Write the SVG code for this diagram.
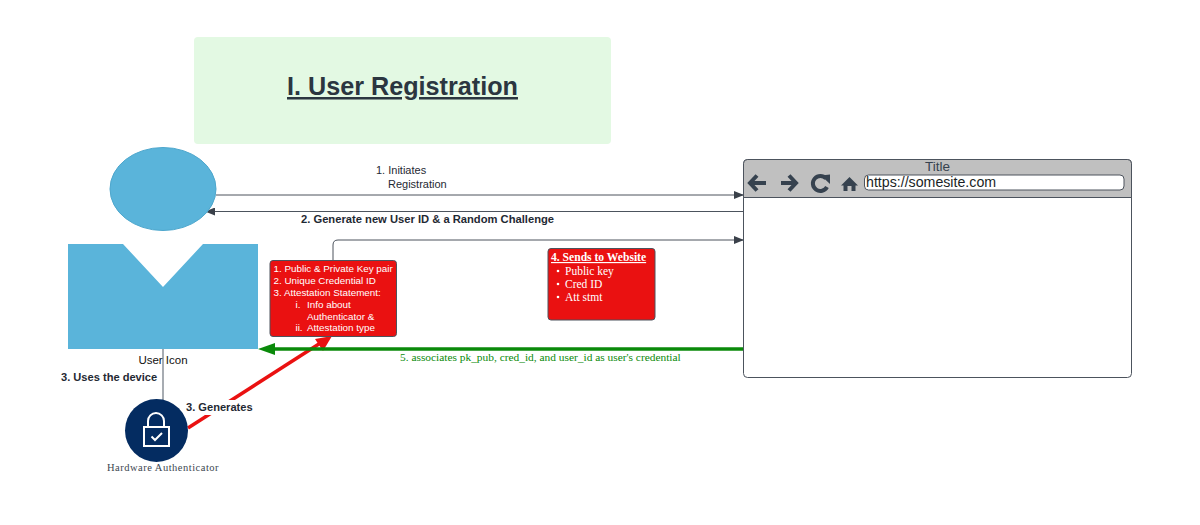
<svg xmlns="http://www.w3.org/2000/svg" width="1200" height="525" viewBox="0 0 1200 525">
<style>
.s{font-family:"Liberation Sans",Arial,sans-serif;fill:#1f2933}
.b{font-weight:700}
.w{font-family:"Liberation Sans",Arial,sans-serif;fill:#fff;font-size:9.850px}
.g{font-family:"Liberation Serif","DejaVu Serif",serif}
.ln{fill:none;stroke:#4c535d;stroke-width:1}
</style>
<defs>
<marker id="ah" markerWidth="10" markerHeight="8" refX="9" refY="4" orient="auto" markerUnits="userSpaceOnUse"><path d="M0 0L10 4L0 8Z" fill="#3a414a"/></marker>
</defs>
<rect width="1200" height="525" fill="#fff"/>
<g id="title"><rect x="194" y="37" width="417" height="107" rx="4" fill="#e3f9e3"/>
<text x="402.500" y="95" text-anchor="middle" class="s b" font-size="25.200" text-decoration="underline" style="fill:#2b3640">I. User Registration</text></g>
<g id="connectors">
<path class="ln" d="M216 195H743" marker-end="url(#ah)"/>
<path class="ln" d="M743 211.500H206" marker-end="url(#ah)"/>
<path class="ln" d="M333 260V245Q333 240 338 240H743" marker-end="url(#ah)"/>
<path d="M163 349V401" fill="none" stroke="#8a9099" stroke-width="1.500"/>
<path d="M188 428L322 342" fill="none" stroke="#ea1111" stroke-width="3.500"/>
<path d="M332 336L315 339L323 351Z" fill="#ea1111"/>
<path d="M743 349H272" fill="none" stroke="#0a8a0a" stroke-width="3.500"/>
<path d="M258 349L275 343V355Z" fill="#0a8a0a"/>
</g>
<g id="user-icon">
<ellipse cx="163" cy="189" rx="53" ry="41.500" fill="#5ab4da" stroke="#4ea7cd"/>
<path d="M68 244H123L163 287L203 244H258V349H68Z" fill="#5ab4da"/>
<text x="163" y="364" text-anchor="middle" class="s" font-size="11.500" style="fill:#111">User Icon</text>
</g>
<g id="label-uses"><text x="61" y="381" class="s b" font-size="11.100">3. Uses the device</text></g>
<g id="authenticator">
<circle cx="156.500" cy="430.500" r="31.500" fill="#042c61"/>
<path d="M148 427V421a8 8 0 0 1 16 0V427" fill="none" stroke="#fff" stroke-width="2"/>
<rect x="144" y="427" width="25" height="19" fill="none" stroke="#fff" stroke-width="2"/>
<path d="M151.500 436.500L155 440L162 433" fill="none" stroke="#fff" stroke-width="2"/>
<text x="163" y="471" text-anchor="middle" class="g" fill="#3c4650" font-size="10.500" letter-spacing=".5">Hardware Authenticator</text>
</g>
<g id="label-generates"><rect x="186" y="400" width="68" height="15" fill="#fff"/><text x="186" y="411" class="s b" font-size="11.100">3. Generates</text></g>
<g id="label-initiates"><text x="376" y="174" class="s" font-size="11">1. Initiates</text><text x="388" y="188" class="s" font-size="11">Registration</text></g>
<g id="label-generate-new"><text x="301" y="223" class="s b" font-size="11.200">2. Generate new User ID &amp; a Random Challenge</text></g>
<g id="box-keys">
<rect x="270" y="260.500" width="126.500" height="76" rx="3" fill="#ea1111" stroke="#4c535d"/>
<text class="w" x="273.500" y="272">1. Public &amp; Private Key pair</text>
<text class="w" x="273.500" y="284">2. Unique Credential ID</text>
<text class="w" x="273.500" y="296">3. Attestation Statement:</text>
<text class="w" x="295.500" y="307.500">i.</text><text class="w" x="307" y="307.500">Info about</text>
<text class="w" x="307" y="319.500">Authenticator &amp;</text>
<text class="w" x="295.500" y="331">ii.</text><text class="w" x="307" y="331">Attestation type</text>
</g>
<g id="box-sends">
<rect x="548" y="248.500" width="107" height="71.500" rx="3" fill="#ea1111" stroke="#4c535d"/>
<text x="551" y="261" class="g" fill="#fff" font-size="11.600" font-weight="700" text-decoration="underline">4. Sends to Website</text>
<g class="g" fill="#fff" font-size="11.500">
<circle cx="558" cy="271" r="1.300"/><text x="565" y="274.500">Public key</text>
<circle cx="558" cy="284" r="1.300"/><text x="565" y="288">Cred ID</text>
<circle cx="558" cy="297" r="1.300"/><text x="565" y="301">Att stmt</text>
</g>
</g>
<g id="label-associates"><text x="400" y="361" class="g" fill="#0a8a0a" font-size="11.400">5. associates pk_pub, cred_id, and user_id as user's credential</text></g>
<g id="browser">
<rect x="743.500" y="159.500" width="388" height="218" rx="4" fill="#fff" stroke="#4c535d"/>
<path d="M743.500 197.500V163.500a4 4 0 0 1 4-4H1127.500a4 4 0 0 1 4 4V197.500Z" fill="#c0c0c0" stroke="#4c535d"/>
<text x="937.500" y="171" text-anchor="middle" class="s" font-size="13.500" style="fill:#36424f">Title</text>
<g fill="none" stroke="#36424f" stroke-width="4">
<path d="M766 183H751M757 175.500L750 183L757 190.500"/>
<path d="M781 183H796M789 175.500L796 183L789 190.500"/>
<path d="M826 178.500A7.500 7.500 0 1 0 827 187"/>
</g>
<path d="M821 175.500L830 174.500V184Z" fill="#36424f"/>
<path d="M849.500 177L858 185.500H855.500V191H851.500V186H847.500V191H843.500V185.500H841Z" fill="#36424f"/>
<rect x="864.500" y="175" width="259.500" height="15" rx="4" fill="#fff" stroke="#4c535d"/>
<text x="866" y="186.500" class="s" font-size="14.200" style="fill:#1a1f25">https://somesite.com</text>
</g>
</svg>
